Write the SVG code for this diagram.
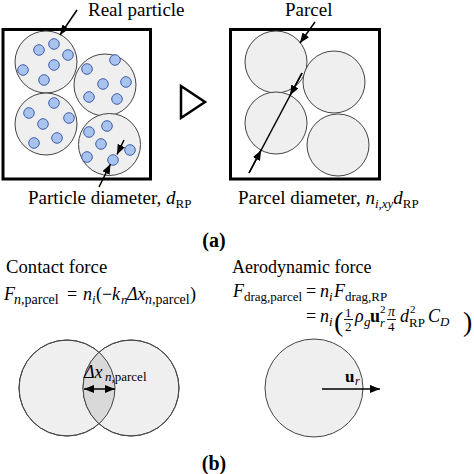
<svg xmlns="http://www.w3.org/2000/svg" width="474" height="474" viewBox="0 0 474 474">
<style>
.t{font-family:"Liberation Serif","DejaVu Serif","Times New Roman",serif;fill:#000}
.i{font-style:italic}
.b{font-weight:bold}
.grey{fill:#efefef;stroke:#444;stroke-width:1}
.lens{fill:#d9d9d9;stroke:none}
.dot{fill:#a9c3ef;stroke:#3d5ea6;stroke-width:1}
.box{fill:none;stroke:#000;stroke-width:3}
.arr{stroke:#000;stroke-width:1.5;fill:none}
.bar{stroke:#000;stroke-width:0.9}
</style>
<defs>
<marker id="ah" markerUnits="userSpaceOnUse" markerWidth="12" markerHeight="10" refX="10" refY="4" orient="auto-start-reverse"><path d="M0,0 L10,4 L0,8 Z" fill="#000"/></marker>
<clipPath id="cl"><circle cx="67" cy="388" r="48"/></clipPath>
</defs>

<g id="real-box">
<rect class="box" x="3" y="29.5" width="147.5" height="149.5"/>
<circle class="grey" cx="46" cy="62" r="31"/>
<circle class="grey" cx="105" cy="85" r="31"/>
<circle class="grey" cx="46" cy="124" r="31"/>
<circle class="grey" cx="109.5" cy="144.5" r="31"/>
<g>
<circle class="dot" cx="39" cy="50" r="5.3"/><circle class="dot" cx="54" cy="44" r="5.3"/><circle class="dot" cx="68" cy="55" r="5.3"/><circle class="dot" cx="54" cy="65" r="5.3"/><circle class="dot" cx="23" cy="70" r="5.3"/><circle class="dot" cx="44" cy="80" r="5.3"/>
<circle class="dot" cx="115" cy="60" r="5.3"/><circle class="dot" cx="87" cy="69" r="5.3"/><circle class="dot" cx="103" cy="84" r="5.3"/><circle class="dot" cx="126" cy="82" r="5.3"/><circle class="dot" cx="89" cy="97" r="5.3"/><circle class="dot" cx="117" cy="99" r="5.3"/>
<circle class="dot" cx="54" cy="103" r="5.3"/><circle class="dot" cx="29" cy="113" r="5.3"/><circle class="dot" cx="69" cy="118" r="5.3"/><circle class="dot" cx="43" cy="124" r="5.3"/><circle class="dot" cx="57" cy="138" r="5.3"/><circle class="dot" cx="34" cy="143" r="5.3"/>
<circle class="dot" cx="107" cy="126" r="5.3"/><circle class="dot" cx="89" cy="132" r="5.3"/><circle class="dot" cx="101" cy="144" r="5.3"/><circle class="dot" cx="130" cy="150" r="5.3"/><circle class="dot" cx="87" cy="157" r="5.3"/><circle class="dot" cx="113" cy="160" r="5.3"/>
</g>
</g>

<g id="parcel-box">
<rect class="box" x="230.5" y="29.5" width="149" height="149.5"/>
<circle class="grey" cx="276" cy="62" r="31"/>
<circle class="grey" cx="334" cy="82" r="31"/>
<circle class="grey" cx="276" cy="123" r="31"/>
<circle class="grey" cx="338" cy="145" r="31"/>
</g>

<g id="arrow-triangle">
<polygon points="181,86 205,102 181,118" fill="#fff" stroke="#000" stroke-width="2.5" stroke-linejoin="miter"/>
</g>

<g id="labels-a">
<text class="t" x="88" y="16" font-size="19">Real particle</text>
<text class="t" x="285" y="16" font-size="19">Parcel</text>
<text class="t" x="28" y="204" font-size="19">Particle diameter, <tspan class="i">d</tspan><tspan font-size="13" dy="4">RP</tspan></text>
<text class="t" x="238" y="204" font-size="19">Parcel diameter, <tspan class="i">n</tspan><tspan class="i" font-size="13" dy="4">i,xy</tspan><tspan class="i" dy="-4">d</tspan><tspan font-size="13" dy="4">RP</tspan></text>
<text class="t b" x="214" y="247" font-size="20" text-anchor="middle">(a)</text>
<text class="t b" x="214" y="470" font-size="20" text-anchor="middle">(b)</text>
</g>

<g id="contact">
<text class="t" x="6" y="273" font-size="18.7">Contact force</text>
<text class="t" y="300" font-size="18"><tspan class="i" x="4">F</tspan><tspan class="i" font-size="14" x="14" dy="4">n</tspan><tspan font-size="14">,parcel</tspan><tspan x="67" dy="-4">=</tspan><tspan class="i" x="83">n</tspan><tspan class="i" font-size="13" x="92" dy="4">i</tspan><tspan x="96" dy="-4">(</tspan><tspan x="102">−</tspan><tspan class="i" x="112">k</tspan><tspan class="i" font-size="13" x="121" dy="4">n</tspan><tspan class="i" x="127" dy="-4">Δx</tspan><tspan class="i" font-size="14" x="145" dy="4">n</tspan><tspan font-size="14">,parcel</tspan><tspan x="190" dy="-4">)</tspan></text>
<circle class="grey" cx="67" cy="388" r="48"/>
<circle class="grey" cx="131" cy="388" r="48"/>
<circle class="lens" cx="131" cy="388" r="48" clip-path="url(#cl)"/>
<circle cx="67" cy="388" r="48" fill="none" stroke="#444" stroke-width="1"/>
<circle cx="131" cy="388" r="48" fill="none" stroke="#444" stroke-width="1"/>
<text class="t" y="378" font-size="18"><tspan class="i" x="84">Δx</tspan><tspan class="i" font-size="13" x="105" dy="3">n</tspan><tspan font-size="13">,parcel</tspan></text>
</g>

<g id="aero">
<text class="t" x="232" y="273" font-size="18">Aerodynamic force</text>
<text class="t" y="297" font-size="18"><tspan class="i" x="233">F</tspan><tspan font-size="13" x="244" dy="4">drag,parcel</tspan><tspan x="306" dy="-4">=</tspan><tspan class="i" x="320">n</tspan><tspan class="i" font-size="13" x="329" dy="4">i</tspan><tspan class="i" x="334" dy="-4">F</tspan><tspan font-size="13" x="345" dy="4">drag,RP</tspan></text>
<text class="t" y="322" font-size="18"><tspan x="306">=</tspan><tspan class="i" x="320">n</tspan><tspan class="i" font-size="13" x="329" dy="4">i</tspan></text>
<text class="t" x="334" y="331" font-size="28">(</text>
<text class="t" x="345" y="317" font-size="13">1</text>
<line class="bar" x1="344" y1="319.5" x2="353" y2="319.5"/>
<text class="t" x="345" y="331" font-size="13">2</text>
<text class="t" y="322" font-size="18"><tspan class="i" x="355">ρ</tspan><tspan class="i" font-size="13" x="364" dy="4">g</tspan><tspan class="b" x="370" dy="-4">u</tspan><tspan class="i" font-size="12" x="380" dy="5">r</tspan></text>
<text class="t" x="380" y="313" font-size="11">2</text>
<text class="t i" x="388" y="316" font-size="14">π</text>
<line class="bar" x1="387" y1="319.5" x2="396" y2="319.5"/>
<text class="t" x="388" y="331" font-size="13">4</text>
<text class="t" y="322" font-size="18"><tspan class="i" x="400">d</tspan><tspan font-size="13" x="409" dy="5">RP</tspan><tspan class="i" x="428" dy="-5">C</tspan><tspan class="i" font-size="13" x="440" dy="4">D</tspan></text>
<text class="t" x="410" y="313" font-size="11">2</text>
<text class="t" x="463" y="331" font-size="28">)</text>
<circle class="grey" cx="314" cy="388" r="49"/>
<text class="t" y="382" font-size="17"><tspan class="b" x="345">u</tspan><tspan class="i" font-size="12" x="355" dy="3">r</tspan></text>
</g>

<g id="connectors">
<line class="arr" x1="77" y1="10" x2="60" y2="35" marker-end="url(#ah)"/>
<line class="arr" x1="315" y1="22" x2="300" y2="43" marker-end="url(#ah)"/>
<line class="arr" x1="124" y1="140" x2="117" y2="154.5" marker-end="url(#ah)"/>
<line class="arr" x1="99" y1="187" x2="110.5" y2="164" marker-end="url(#ah)"/>
<line class="arr" x1="249" y1="173" x2="302" y2="73"/>
<line class="arr" x1="302" y1="73" x2="290.1" y2="95.3" marker-end="url(#ah)"/>
<line class="arr" x1="249" y1="173" x2="261.1" y2="150.2" marker-end="url(#ah)"/>
<line class="arr" x1="84" y1="389" x2="115" y2="389" stroke-width="2" marker-start="url(#ah)" marker-end="url(#ah)"/>
<line class="arr" x1="322" y1="389" x2="380" y2="389" marker-end="url(#ah)"/>
</g>
</svg>
